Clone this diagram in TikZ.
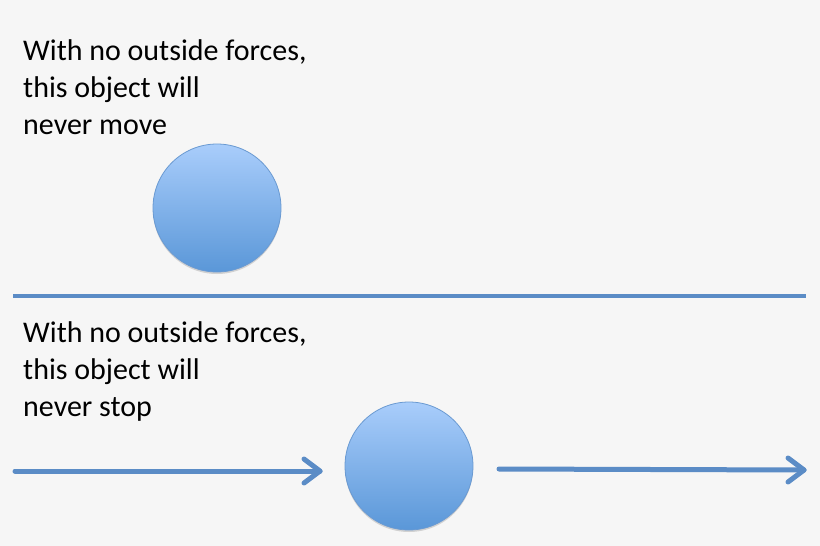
\documentclass[tikz,border=0pt]{standalone}
\usepackage{fontspec}
\setmainfont{Carlito}
\usetikzlibrary{calc,shadows}
\definecolor{bg}{HTML}{F6F6F6}
\definecolor{lineblue}{HTML}{5B8CC6}
\definecolor{ballTop}{HTML}{A9CDFB}
\definecolor{ballBot}{HTML}{5A97D8}
\definecolor{ballEdge}{HTML}{6A9AD2}
\tikzset{
  caption/.style={anchor=north west, inner sep=0pt, align=left, text=black,
    font=\fontsize{30}{37}\selectfont},
  ball/.style={circle, minimum size=128pt, inner sep=0pt, draw=ballEdge, line width=0.8pt,
    top color=ballTop, bottom color=ballBot,
    drop shadow={shadow xshift=0pt, shadow yshift=-2pt, opacity=0.25, fill=black!60}},
  divider/.style={draw=lineblue, line width=4pt},
  motion/.style={draw=lineblue, line width=5pt, line cap=round, line join=round}
}
\begin{document}
\begin{tikzpicture}[x=1pt, y=-1pt]
  \fill[bg] (0,0) rectangle (820,546);
  \useasboundingbox (0,0) rectangle (820,546);
  \node[caption] (t1) at (23,39) {With no outside forces,\\this object will\\never move};
  \node[ball] (b1) at (217,208) {};
  \coordinate (d1) at (13,296);
  \coordinate (d2) at (806,296);
  \draw[divider] (d1) -- (d2);
  \node[caption] (t2) at (23,321) {With no outside forces,\\this object will\\never stop};
  \node[ball] (b2) at (409,466) {};
  \coordinate (a1s) at (15,471);
  \coordinate (a1e) at (320,471);
  \coordinate (a2s) at (499,469);
  \coordinate (a2e) at (804,470);
  \draw[motion] (a1s) -- (a1e);
  \draw[motion] ($(a1e)+(-16,-12)$) -- (a1e) -- ($(a1e)+(-16,12)$);
  \draw[motion] (a2s) -- (a2e);
  \draw[motion] ($(a2e)+(-16,-12)$) -- (a2e) -- ($(a2e)+(-16,12)$);
\end{tikzpicture}
\end{document}
